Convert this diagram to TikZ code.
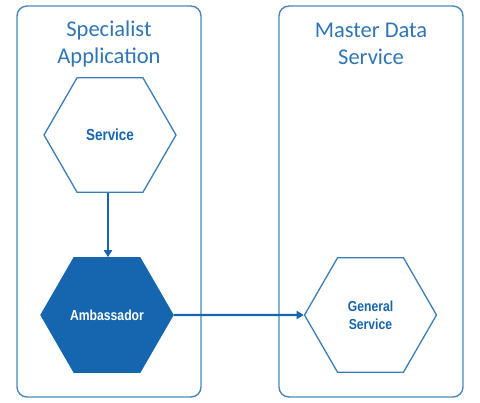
\documentclass[tikz,border=0pt]{standalone}
\usepackage{fontspec}
\setmainfont{Carlito}
\newfontfamily\condbold[FakeStretch=0.84]{Liberation Sans Bold}
\usetikzlibrary{shapes.geometric,arrows.meta}
\definecolor{boxblue}{HTML}{4A87B8}
\definecolor{titleblue}{HTML}{2F75B5}
\definecolor{hexblue}{HTML}{1565AF}
\definecolor{hexline}{HTML}{3B7DB5}
\begin{document}
\begin{tikzpicture}[x=1pt,y=-1pt,
  container/.style={draw=boxblue,line width=1.4pt,rounded corners=10pt,minimum width=184pt,minimum height=391pt,inner sep=0pt},
  title/.style={text=titleblue,font=\fontsize{22.5}{27}\selectfont,align=center},
  hexnode/.style={regular polygon,regular polygon sides=6,minimum size=132pt,inner sep=0pt,line width=1.3pt,align=center},
  flow/.style={draw=hexblue,line width=2.4pt,-{Triangle[length=7pt,width=8pt]}}]
\useasboundingbox (0,0) rectangle (480,403);
\node[container] (left) at (109,201.5) {};
\node[container] (right) at (371,201.5) {};
\node[title] (ltitle) at (109,44) {Specialist\\Application};
\node[title] (rtitle) at (371,44) {Master Data\\Service};
\node[hexnode,draw=hexline,text=hexblue,font=\condbold\fontsize{16}{18}\selectfont] (svc) at (110,135) {Service};
\node[hexnode,draw=hexblue,fill=hexblue,text=white,font=\condbold\fontsize{14.5}{17}\selectfont] (amb) at (107,315) {Ambassador};
\node[hexnode,draw=hexline,text=hexblue,font=\condbold\fontsize{14.5}{18}\selectfont] (gen) at (370.5,315) {General\\Service};
\draw[flow] (svc.south -| 108,0) -- (amb.north -| 108,0);
\draw[flow] (amb.east) -- (gen.west);
\end{tikzpicture}
\end{document}
